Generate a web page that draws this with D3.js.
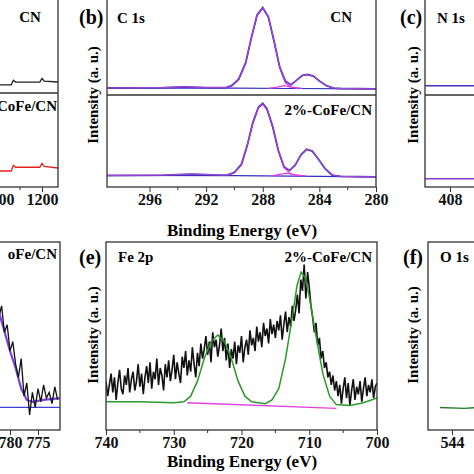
<!DOCTYPE html>
<html><head><meta charset="utf-8">
<script src="https://cdn.jsdelivr.net/npm/d3@7"></script>
<style>body{margin:0;background:#fff}text{font-family:"Liberation Serif",serif;font-weight:bold}</style>
</head><body><svg id="c" width="474" height="474"></svg>
<script>
// ---- data ----
const bTicks=[296,292,288,284,280];
const bEnvTop=[[299,7.5],[295,8],[293.5,8.8],[292,8],[290.6,8],[290.2,10],[289.7,17],[289.2,35],[288.8,62],[288.4,86],[288,94],[287.6,84],[287.2,58],[286.8,30],[286.4,15],[286,11],[285.6,16],[285.2,21],[284.8,22],[284.4,20],[284,15],[283.5,10],[283,7.5],[282.5,7],[280,6.5]];
const bCompTop=[[290.6,7.5],[290.2,9.5],[289.7,16.5],[289.2,34],[288.8,61],[288.4,85],[288,93],[287.6,83],[287.2,57],[286.8,29],[286.4,13],[286,8.5],[285.5,7.2]];
const bComp2Top=[[287.6,7.2],[287,8.5],[286.5,10],[286,8.5],[285.2,7.2]];
const bBgTop=[[299,7.5],[290,7.5],[286,7],[280,6.5]];
const bEnvBot=[[299,12.5],[295,13],[293,14],[291,13],[290.5,13],[290,16],[289.5,25],[289.1,45],[288.7,70],[288.3,87],[288,91],[287.7,85],[287.3,66],[286.9,40],[286.5,22],[286.1,18],[285.7,24],[285.3,35],[284.9,41],[284.5,39],[284.1,31],[283.6,20],[283.1,13],[282.5,11.5],[280,11]];
const bCompBot=[[290.5,12.5],[290,15.5],[289.5,24],[289.1,44],[288.7,69],[288.3,86],[288,90],[287.7,84],[287.3,65],[286.9,39],[286.5,21],[286,14],[285.5,12]];
const bComp2Bot=[[287.4,12],[286.8,13.8],[286.3,15],[285.8,13.5],[285,12]];
const bBgBot=[[299,12.5],[290,12.3],[286,11.8],[280,11]];
const aTop=[[900,9],[1060,9],[1070,14],[1080,12],[1190,12],[1200,16],[1210,13],[1280,12]];
const aBot=[[900,17],[1060,17],[1070,23],[1080,21],[1190,21],[1200,25],[1210,22],[1280,20]];
const cTop=[[412,10],[390,10]], cBot=[[412,9],[390,9]];
const dBlack=[[786,92],[785,88],[784.5,94],[784,80],[783.5,86],[783,70],[782.5,75],[782,60],[781.5,66],[781,52],[780.5,56],[780,42],[779.5,47],[779,35],[778.5,28],[778,38],[777.5,18],[777,25],[776.5,8],[776,20],[775.5,12],[775,22],[774.5,15],[774,24],[773.5,17],[773,20],[772.5,14],[772,23],[771.5,16]];
const dPurple=[[786,90],[784,82],[782,63],[780,42],[779,33],[778,22],[777,16],[776,15],[774,16],[771,17]];
const dBlue=[[786,12],[771,12]];
const eTicks=[740,730,720,710,700];
const feStart=740, feStep=0.25;
const feNoisy=[26,18,24,30,20,28,16,25,32,22,19,29,24,33,20,27,31,21,26,35,23,30,19,28,34,
 25,36,22,31,27,38,24,33,29,21,35,28,37,26,32,40,27,36,30,25,39,33,42,29,37,
 31,44,35,28,41,34,46,38,43,50,40,47,36,52,44,48,39,45,54,42,49,37,46,33,43,
 38,47,35,45,41,50,36,44,48,40,53,45,49,42,55,47,52,44,57,50,54,46,59,51,56,
 49,58,53,61,48,56,63,52,60,55,66,58,64,72,62,80,74,88,70,84,76,66,60,52,57,
 45,49,38,42,33,36,28,31,24,29,21,26,18,24,14,22,28,17,25,13,21,27,16,23,19,
 26,15,22,28,18,24,20,27,17,23,25];
const feFit=[[740,15],[735,15],[730,14.5],[728.5,15],[727.5,18],[726.5,26],[725.5,38],[724.5,47],[723.5,50.5],[722.5,47],[721.5,38],[720.5,26],[719.5,18],[718.5,15],[716.5,14],[715.5,16],[714.5,22],[713.5,38],[712.5,60],[711.8,77],[711.2,84],[710.6,81],[710,71],[709,50],[708,30],[707,18],[706,13.5],[704,13],[702,14.5],[700,17]];
const feBg=[[728,14.5],[706,11.5]];
const fLine=[[545,12],[543,11.5],[541,12.3],[539,11.8],[537,12.4],[535,12]];

const svg=d3.select("#c");
const line=(x,y)=>d3.line().x(d=>x(d[0])).y(d=>y(d[1]));
function path(g,data,x,y,col,w){g.append("path").datum(data).attr("d",line(x,y)).attr("fill","none").attr("stroke",col).attr("stroke-width",w||1.3);}
function txt(x,y,s,size,anchor,rot){const t=svg.append("text").attr("x",x).attr("y",y).attr("font-size",size).attr("text-anchor",anchor||"start").text(s);if(rot)t.attr("transform",`rotate(-90,${x},${y})`);return t;}
function box(x0,y0,x1,y1,div){svg.append("rect").attr("x",x0).attr("y",y0).attr("width",x1-x0).attr("height",y1-y0).attr("fill","none").attr("stroke","#333").attr("stroke-width",1.3);if(div)svg.append("line").attr("x1",x0).attr("x2",x1).attr("y1",div).attr("y2",div).attr("stroke","#333").attr("stroke-width",1.3);}
function axis(x,ticks,y0,minor){const ax=d3.axisBottom(x).tickValues(ticks).tickSize(5).tickFormat(d3.format("d"));const g=svg.append("g").attr("transform",`translate(0,${y0})`).call(ax);g.select(".domain").remove();g.selectAll("text").attr("font-size",16).attr("dy","0.65em").style("font-family","Liberation Serif").style("font-weight","bold").style("fill","#111");g.selectAll("line").attr("stroke","#333");
 if(minor){svg.append("g").attr("transform",`translate(0,${y0})`).selectAll("line").data(minor).join("line").attr("x1",d=>x(d)).attr("x2",d=>x(d)).attr("y2",3).attr("stroke","#333");}}
const clip=(id,x0,y0,x1,y1)=>{svg.append("clipPath").attr("id",id).append("rect").attr("x",x0).attr("y",y0).attr("width",x1-x0).attr("height",y1-y0);return svg.append("g").attr("clip-path",`url(#${id})`);};

// panel a
{const x=d3.scaleLinear().domain([1000,1200]).range([-2,42]);const yT=d3.scaleLinear().domain([0,100]).range([93,2]);const yB=d3.scaleLinear().domain([0,100]).range([187,93]);
 const g=clip("ca",-5,0,58,187);path(g,aTop,x,yT,"#222");path(g,aBot,x,yB,"#e02020");
 box(-5,-2,58,187,93);axis(x,[1000,1200],187,[1100]);txt(30,22,"CN",15,"middle");txt(57,111,"CoFe/CN",15,"end");}
// panel b
{const x=d3.scaleLinear().domain([299,280]).range([107,376]);const yT=d3.scaleLinear().domain([0,100]).range([95,2]);const yB=d3.scaleLinear().domain([0,100]).range([187,95]);
 const g=clip("cb",107,0,376,187);
 [[bBgTop,bEnvTop,bCompTop,bComp2Top,yT],[bBgBot,bEnvBot,bCompBot,bComp2Bot,yB]].forEach(([bg,env,c1,c2,y])=>{
  path(g,bg,x,y,"#3030c0",1.2);path(g,c2,x,y,"#e040e0",1.2);path(g,c1,x,y,"#e040e0",1.2);path(g,env,x,y,"#4a2fb8",1.8);path(g,env,x,y,"#c050e0",0.8);});
 box(107,-2,376,187,95);axis(x,bTicks,187,[294,290,286,282]);
 txt(79,24,"(b)",20);txt(117,23,"C 1s",15);txt(352,22,"CN",15,"end");txt(372,115,"2%-CoFe/CN",15,"end");
 txt(98,95,"Intensity (a. u.)",15,"middle",true);txt(242,236,"Binding Energy (eV)",17,"middle");}
// panel c
{const x=d3.scaleLinear().domain([408,404]).range([450,505]);const yT=d3.scaleLinear().domain([0,100]).range([95,2]);const yB=d3.scaleLinear().domain([0,100]).range([187,95]);
 const g=clip("cc",425,0,480,187);path(g,cTop,x,yT,"#4a2fb8",1.6);path(g,cBot,x,yB,"#8a3ad0",1.6);
 box(425,-2,480,187,95);axis(x,[408],187,[406]);txt(400,24,"(c)",20);txt(437,23,"N 1s",15);txt(418,95,"Intensity (a. u.)",15,"middle",true);}
// panel d
{const x=d3.scaleLinear().domain([780,775]).range([10,38]);const y=d3.scaleLinear().domain([0,100]).range([430,242]);
 const g=clip("cd",-5,242,60,430);path(g,dBlue,x,y,"#4040d0",1.2);path(g,dPurple,x,y,"#8040e0",2.2);path(g,dBlack,x,y,"#111",1.3);
 box(-5,242,60,430);axis(x,[780,775],430,[]);txt(57,259,"oFe/CN",15,"end");}
// panel e
{const x=d3.scaleLinear().domain([740,700]).range([106,377]);const y=d3.scaleLinear().domain([0,100]).range([430,242]);
 const g=clip("ce",106,242,377,430);const noisy=feNoisy.map((v,i)=>[feStart-i*feStep,v]);
 path(g,noisy,x,y,"#111",1.6);path(g,feBg,x,y,"#e040e0",1.3);path(g,feFit,x,y,"#2a9a2a",1.5);
 box(106,242,377,430);axis(x,eTicks,430,[735,725,715,705]);
 txt(79,264,"(e)",20);txt(118,262,"Fe 2p",15);txt(372,262,"2%-CoFe/CN",15,"end");
 txt(98,335,"Intensity (a. u.)",15,"middle",true);txt(242,467,"Binding Energy (eV)",17,"middle");}
// panel f
{const x=d3.scaleLinear().domain([544,540]).range([452,500]);const y=d3.scaleLinear().domain([0,100]).range([430,242]);
 const g=clip("cf",428,242,480,430);path(g,fLine,x,y,"#2a7a2a",1.4);
 box(428,242,480,430);axis(x,[544],430,[542]);txt(403,264,"(f)",20);txt(440,262,"O 1s",15);txt(418,335,"Intensity (a. u.)",15,"middle",true);}
</script></body></html>
